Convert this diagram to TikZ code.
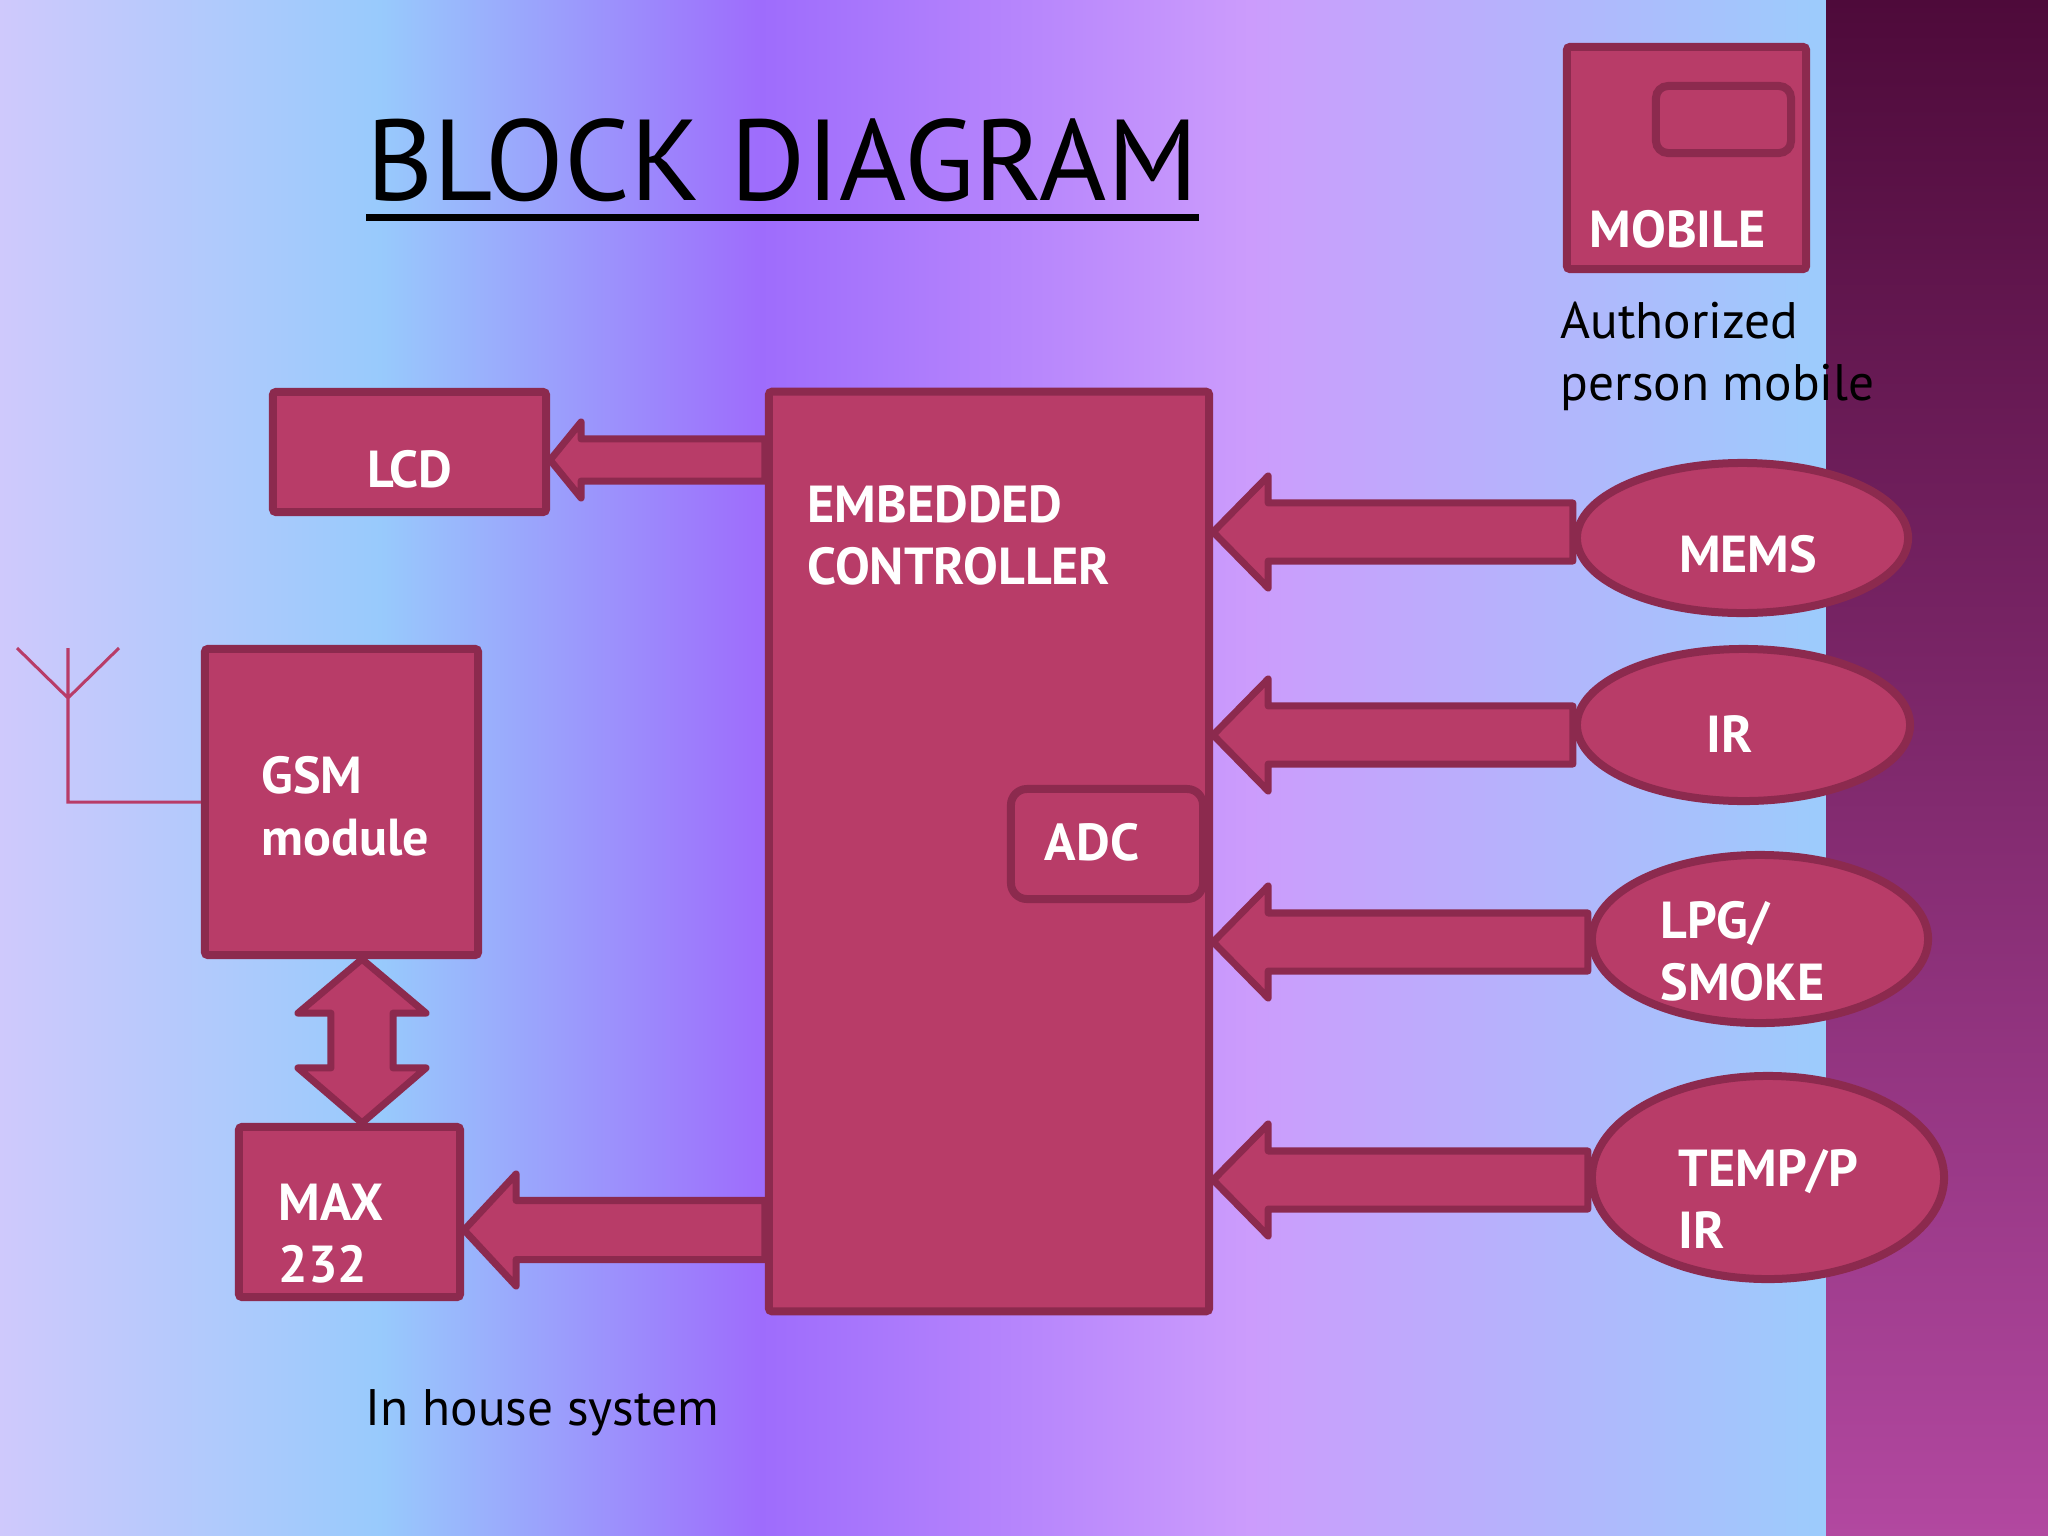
\documentclass[tikz,border=0pt]{standalone}
\usepackage{fontspec}
\setmainfont{PT Sans}
\usetikzlibrary{calc,shapes.geometric}

\definecolor{blockfill}{HTML}{B83C68}
\definecolor{blockline}{HTML}{8C2A4E}
\definecolor{bgA}{HTML}{CFC9FC}
\definecolor{bgB}{HTML}{98CAFC}
\definecolor{bgC}{HTML}{9E6CFC}
\definecolor{bgD}{HTML}{CC9CFC}
\definecolor{bgE}{HTML}{9CCCFC}
\definecolor{stripeA}{HTML}{4E0A3A}
\definecolor{stripeB}{HTML}{78286E}
\definecolor{stripeC}{HTML}{B248A0}

\pgfdeclarelayer{back}
\pgfdeclarelayer{links}
\pgfsetlayers{back,links,main}

\tikzset{
  block/.style={draw=blockline, fill=blockfill, line width=0.08cm, rounded corners=0.03cm, inner sep=0pt},
  sensor/.style={block, ellipse},
  fat/.style={draw=blockline, fill=blockfill, line width=0.07cm, line join=round},
  lbl/.style={text=white, font=\fontsize{14.8}{17.6}\selectfont\bfseries, inner sep=0pt, align=left},
  note/.style={text=black, font=\fontsize{14.6}{17.6}\selectfont, inner sep=0pt, align=left},
  title/.style={text=black, font=\fontsize{32.7}{40}\selectfont, inner sep=0pt},
}

% left-pointing block arrow: tip, tail, head length, head half width, shaft half width
\newcommand{\fatleft}[5]{%
  \draw[fat] let \p1=(#1), \p2=(#2) in
    (\x1,\y1) -- (\x1+#3,\y1+#4) -- (\x1+#3,\y1+#5) -- (\x2,\y1+#5)
    -- (\x2,\y1-#5) -- (\x1+#3,\y1-#5) -- (\x1+#3,\y1-#4) -- cycle;}

\begin{document}
\begin{tikzpicture}[x=0.01cm, y=-0.01cm]
  \useasboundingbox (0,0) rectangle (2048,1536);

  % background
  \begin{pgfonlayer}{back}
    \fill[left color=bgA, right color=bgB] (0,0) rectangle (381,1536);
    \fill[left color=bgB, right color=bgC] (380,0) rectangle (761,1536);
    \fill[left color=bgC, right color=bgD] (760,0) rectangle (1251,1536);
    \fill[left color=bgD, right color=bgE] (1250,0) rectangle (1827,1536);
    \fill[top color=stripeA, middle color=stripeB, bottom color=stripeC] (1826,0) rectangle (2048,1536);
  \end{pgfonlayer}

  % title
  \node[title, anchor=base west] (title) at (366,200) {BLOCK DIAGRAM};
  \draw[line width=0.07cm] ([yshift=-0.17cm]title.base west) -- ([yshift=-0.17cm]title.base east);

  % blocks
  \node[block, minimum width=2.73cm, minimum height=1.20cm] (lcd) at (409.5,452) {};
  \node[block, minimum width=4.40cm, minimum height=9.19cm] (ctrl) at (989,851.5) {};
  \node[block, rounded corners=0.16cm, minimum width=1.92cm, minimum height=1.10cm] (adc) at (1107,844) {};
  \node[block, minimum width=2.73cm, minimum height=3.06cm] (gsm) at (341.5,802) {};
  \node[block, minimum width=2.21cm, minimum height=1.70cm] (max) at (349.5,1212) {};
  \node[block, minimum width=2.39cm, minimum height=2.22cm] (mobile) at (1686.5,158) {};
  \node[block, rounded corners=0.12cm, minimum width=1.35cm, minimum height=0.67cm] (screen) at (1723.5,119.5) {};

  % sensors
  \node[sensor, minimum width=3.31cm, minimum height=1.50cm] (mems) at (1742.5,538) {};
  \node[sensor, minimum width=3.33cm, minimum height=1.52cm] (ir) at (1743.5,725) {};
  \node[sensor, minimum width=3.36cm, minimum height=1.68cm] (lpg) at (1760,939) {};
  \node[sensor, minimum width=3.52cm, minimum height=2.03cm] (temp) at (1768,1177.5) {};

  % labels (base of a two-line label is its last line)
  \node[lbl, anchor=base] (lcd-t) at (410,487) {LCD};
  \node[lbl, anchor=base west] (ctrl-t) at (807,584) {EMBEDDED\\CONTROLLER};
  \node[lbl, anchor=base] (adc-t) at (1092,860) {ADC};
  \node[lbl, anchor=base west] (gsm-t) at (261,855) {GSM\\module};
  \node[lbl, anchor=base west] (max-t) at (278,1282) {MAX\\232};
  \node[lbl, anchor=base west] (mobile-t) at (1589,247) {MOBILE};
  \node[lbl, anchor=base] (mems-t) at (1748,572) {MEMS};
  \node[lbl, anchor=base] (ir-t) at (1730,752) {IR};
  \node[lbl, anchor=base west] (lpg-t) at (1660,1000) {LPG/\\SMOKE};
  \node[lbl, anchor=base west] (temp-t) at (1678,1248) {TEMP/P\\IR};
  \node[note, anchor=base west] (auth) at (1560,400) {Authorized\\person mobile};
  \node[note, anchor=base west] (house) at (365,1425) {In house system};

  % antenna
  \coordinate (ant) at (68,698);
  \draw[blockfill, line width=0.03cm] (gsm.west) -| (ant) -- (68,648)
    (17,648) -- (ant) -- (119,648);

  % block arrows
  \coordinate (dbl) at (362,0);
  \begin{pgfonlayer}{links}
    \fatleft{lcd.east |- 0,460}{ctrl.west |- 0,460}{0.31cm}{0.38cm}{0.21cm}
    \fatleft{max.east |- 0,1230}{ctrl.west |- 0,1230}{0.52cm}{0.56cm}{0.295cm}
    \fatleft{ctrl.east |- 0,532}{mems.west |- 0,532}{0.55cm}{0.56cm}{0.29cm}
    \fatleft{ctrl.east |- 0,735}{ir.west |- 0,735}{0.55cm}{0.56cm}{0.29cm}
    \fatleft{ctrl.east |- 0,942}{lpg.west |- 0,942}{0.55cm}{0.56cm}{0.29cm}
    \fatleft{ctrl.east |- 0,1180}{temp.west |- 0,1180}{0.55cm}{0.56cm}{0.29cm}
    \draw[fat] let \p1=(gsm.south -| dbl), \p2=(max.north -| dbl) in
      (\x1,\y1) -- (\x1+0.64cm,\y1-0.54cm) -- (\x1+0.31cm,\y1-0.54cm)
      -- (\x1+0.31cm,\y2+0.55cm) -- (\x1+0.64cm,\y2+0.55cm) -- (\x1,\y2)
      -- (\x1-0.64cm,\y2+0.55cm) -- (\x1-0.31cm,\y2+0.55cm)
      -- (\x1-0.31cm,\y1-0.54cm) -- (\x1-0.64cm,\y1-0.54cm) -- cycle;
  \end{pgfonlayer}
\end{tikzpicture}
\end{document}
